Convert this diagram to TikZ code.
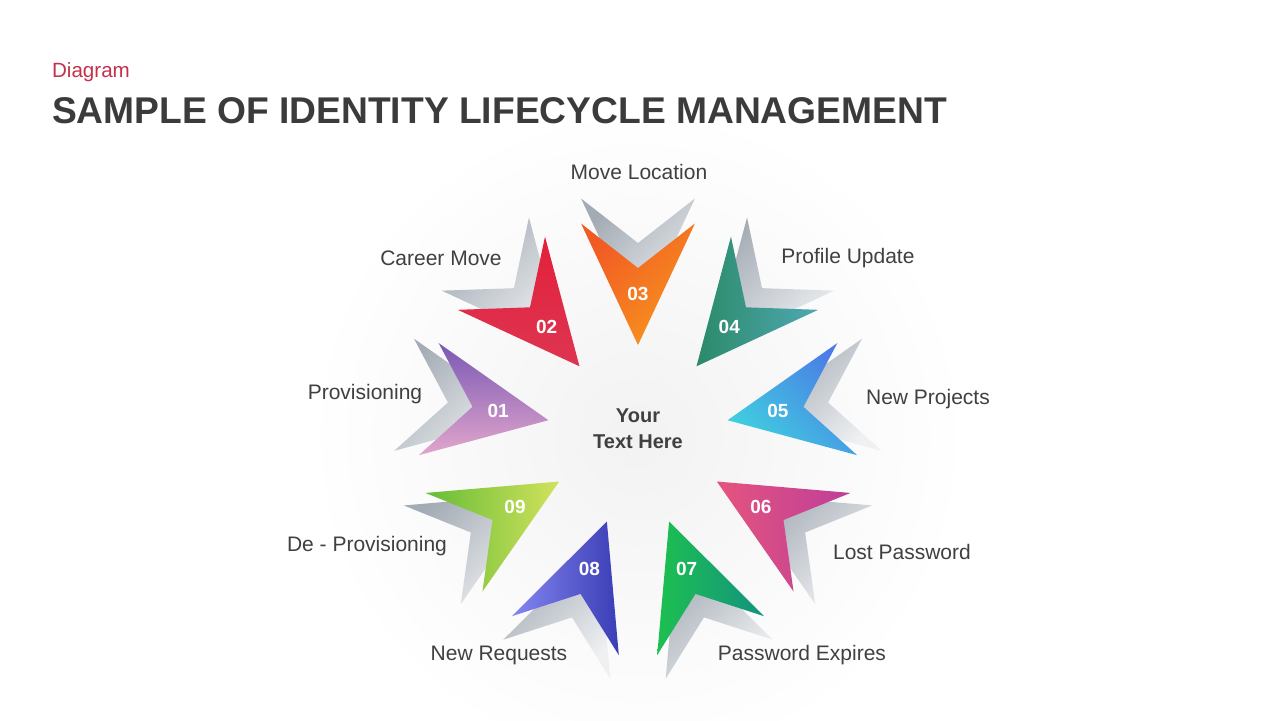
\documentclass[tikz,border=0pt]{standalone}
\usepackage{fontspec}
\setmainfont{Liberation Sans}
\usepackage{tikz}

\definecolor{txtgrey}{HTML}{404040}
\definecolor{titlegrey}{HTML}{3B3B3B}
\definecolor{kicker}{HTML}{C5304A}
\definecolor{shadowdark}{HTML}{A3ABB4}
\definecolor{shadowlight}{HTML}{EEF0F2}
\definecolor{cA1}{HTML}{7A58B4}\definecolor{cB1}{HTML}{E2A6CC}
\definecolor{cA2}{HTML}{E4203A}\definecolor{cB2}{HTML}{DD3552}
\definecolor{cA3}{HTML}{F15A24}\definecolor{cB3}{HTML}{F7941E}
\definecolor{cA4}{HTML}{2B8A68}\definecolor{cB4}{HTML}{4FA8B3}
\definecolor{cA5}{HTML}{4B7BE6}\definecolor{cB5}{HTML}{3FD0DF}
\definecolor{cA6}{HTML}{E5547F}\definecolor{cB6}{HTML}{BE3F98}
\definecolor{cA7}{HTML}{1DC04F}\definecolor{cB7}{HTML}{139280}
\definecolor{cA8}{HTML}{8486F2}\definecolor{cB8}{HTML}{3A3DB4}
\definecolor{cA9}{HTML}{66BC36}\definecolor{cB9}{HTML}{D2E25C}

\tikzset{
  greyshade/.style={top color=shadowdark,bottom color=shadowlight,shading angle=45},
  numtext/.style={text=white,font=\fontsize{9.5}{11}\selectfont\bfseries},
  lbl/.style={text=txtgrey,font=\fontsize{10.5}{12}\selectfont}
}

% one dart: angle, first colour, second colour, shading angle
\newcommand{\idarrow}[4]{%
  \begin{scope}[shift={(#1:25)}]
    \shade[greyshade] (#1:91) -- (#1+15:220) -- (#1:168) -- (#1-15:220) -- cycle;
  \end{scope}
  \shade[top color=#2,bottom color=#3,shading angle=#4]
    (#1:91) -- (#1+15:220) -- (#1:168) -- (#1-15:220) -- cycle;
}

\begin{document}
\begin{tikzpicture}[x=0.5pt,y=0.5pt]
      \useasboundingbox (-638,-284) rectangle (642,436);
      \fill[white] (-638,-284) rectangle (642,436);
      \begin{scope}
        \clip (-638,-284) rectangle (642,436);
        \shade[inner color=black!5,outer color=white] (0,0) circle (330);
      \end{scope}

      \node[anchor=base west,text=kicker,font=\fontsize{10.3}{12}\selectfont] (kick) at (-593,359) {Diagram};
      \node[anchor=base west,text=titlegrey,font=\fontsize{18.6}{22}\selectfont\bfseries] (title) at (-593,313) {SAMPLE OF IDENTITY LIFECYCLE MANAGEMENT};

      \idarrow{170}{cA1}{cB1}{0}
      \idarrow{130}{cA2}{cB2}{0}
      \idarrow{90}{cA3}{cB3}{45}
      \idarrow{50}{cA4}{cB4}{90}
      \idarrow{10}{cA5}{cB5}{-45}
      \idarrow{330}{cA6}{cB6}{90}
      \idarrow{290}{cA7}{cB7}{90}
      \idarrow{250}{cA8}{cB8}{90}
      \idarrow{210}{cA9}{cB9}{90}

      \node[numtext] (n1) at (170:142) {01};
      \node[numtext] (n2) at (130:142) {02};
      \node[numtext] (n3) at (90:142) {03};
      \node[numtext] (n4) at (50:142) {04};
      \node[numtext] (n5) at (10:142) {05};
      \node[numtext] (n6) at (330:142) {06};
      \node[numtext] (n7) at (290:142) {07};
      \node[numtext] (n8) at (250:142) {08};
      \node[numtext] (n9) at (210:142) {09};

      \node[align=center,text=txtgrey,font=\fontsize{10}{13}\selectfont\bfseries] (hub) at (0,7) {Your\\Text Here};

      \node[lbl] (t1) at (-273,42) {Provisioning};
      \node[lbl] (t2) at (-197,178) {Career Move};
      \node[lbl] (t3) at (1,264) {Move Location};
      \node[lbl] (t4) at (210,178) {Profile Update};
      \node[lbl] (t5) at (290,37) {New Projects};
      \node[lbl] (t6) at (264,-116) {Lost Password};
      \node[lbl] (t7) at (164,-219) {Password Expires};
      \node[lbl] (t8) at (-139,-219) {New Requests};
      \node[lbl] (t9) at (-271,-110) {De - Provisioning};
    \end{tikzpicture}
\end{document}
